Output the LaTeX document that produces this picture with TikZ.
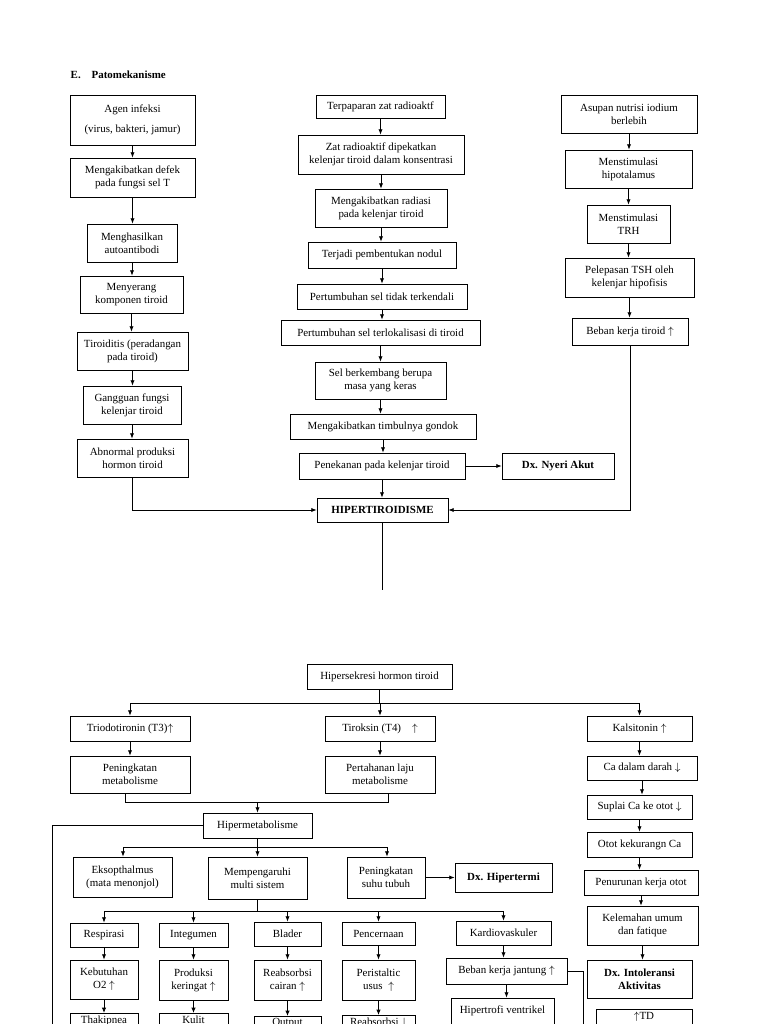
\documentclass[tikz,border=0pt]{standalone}
\usepackage{fontspec}
\setmainfont{Liberation Serif}
\usetikzlibrary{arrows.meta}
\newcommand\bx[7][]{\node[box,#1,minimum width={(#4-#2)*0.75pt},minimum height={(#5-#3)*0.75pt}] (#7) at ({(#2+#4)/2},{(#3+#5)/2}) {#6};}
\newcommand\cutbx[6]{\draw[semithick] (#1,#4) |- (#3,#2) -- (#3,#4);
  \node[txt,anchor=north] (#6) at ({(#1+#3)/2},#2+1) {#5};}
\newcommand\dn[2]{\draw[arr] (#1.south) -- (#1.south|-#2.north);}
\newcommand\up{$\uparrow$}
\newcommand\dw{$\downarrow$}
\begin{document}
\begin{tikzpicture}[x=0.75pt,y=-0.75pt,
  txt/.style={inner sep=1pt,align=center,font=\fontsize{8.2}{9.6}\selectfont},
  box/.style={txt,draw,semithick},
  arr/.style={semithick,-{Latex[length=4pt,width=3.2pt]}},
  ln/.style={semithick}]
\useasboundingbox (0,0) rectangle (768,1024);
\node[anchor=west,font=\bfseries\fontsize{8.2}{9.6}\selectfont] (title) at (66,75) {E.\quad Patomekanisme};
% column 1
\bx{70}{95}{195}{145}{Agen infeksi\\[5pt](virus, bakteri, jamur)}{a1}
\bx{70}{158}{195}{197}{Mengakibatkan defek\\pada fungsi sel T}{a2}
\bx{87}{224}{177}{262}{Menghasilkan\\autoantibodi}{a3}
\bx{80}{276}{183}{313}{Menyerang\\komponen tiroid}{a4}
\bx{77}{332}{188}{370}{Tiroiditis (peradangan\\pada tiroid)}{a5}
\bx{83}{386}{181}{424}{Gangguan fungsi\\kelenjar tiroid}{a6}
\bx{77}{439}{188}{477}{Abnormal produksi\\hormon tiroid}{a7}
\dn{a1}{a2}\dn{a2}{a3}\dn{a3}{a4}\dn{a4}{a5}\dn{a5}{a6}\dn{a6}{a7}
% column 2
\bx{316}{95}{445}{118}{Terpaparan zat radioaktf}{b1}
\bx{298}{135}{464}{174}{Zat radioaktif dipekatkan\\kelenjar tiroid dalam konsentrasi}{b2}
\bx{315}{189}{447}{227}{Mengakibatkan radiasi\\pada kelenjar tiroid}{b3}
\bx{308}{242}{456}{268}{Terjadi pembentukan nodul}{b4}
\bx{297}{284}{467}{309}{Pertumbuhan sel tidak terkendali}{b5}
\bx{281}{320}{480}{345}{Pertumbuhan sel terlokalisasi di tiroid}{b6}
\bx{315}{362}{446}{399}{Sel berkembang berupa\\masa yang keras}{b7}
\bx{290}{414}{476}{439}{Mengakibatkan timbulnya gondok}{b8}
\bx{299}{453}{465}{479}{Penekanan pada kelenjar tiroid}{b9}
\bx[font=\bfseries\fontsize{8.2}{9.6}\selectfont]{502}{453}{614}{479}{Dx. Nyeri Akut}{dx1}
\bx[font=\bfseries\fontsize{8.2}{9.6}\selectfont]{317}{498}{448}{522}{HIPERTIROIDISME}{h}
\dn{b1}{b2}\dn{b2}{b3}\dn{b3}{b4}\dn{b4}{b5}\dn{b5}{b6}\dn{b6}{b7}\dn{b7}{b8}\dn{b8}{b9}\dn{b9}{h}
\draw[arr] (b9) -- (dx1);
% column 3
\bx{561}{95}{697}{133}{Asupan nutrisi iodium\\berlebih}{c1}
\bx{565}{150}{692}{188}{Menstimulasi\\hipotalamus}{c2}
\bx{587}{205}{670}{243}{Menstimulasi\\TRH}{c3}
\bx{565}{258}{694}{297}{Pelepasan TSH oleh\\kelenjar hipofisis}{c4}
\bx{572}{318}{688}{345}{Beban kerja tiroid \up}{c5}
\dn{c1}{c2}\dn{c2}{c3}\dn{c3}{c4}\dn{c4}{c5}
\draw[arr] (a7.south) |- (h.west);
\draw[arr] (c5.south) |- (h.east);
\coordinate (hend) at (380,590);
\draw[ln] (h.south) -- (h.south|-hend);
% lower part
\bx{307}{664}{452}{689}{Hipersekresi hormon tiroid}{d0}
\bx{70}{716}{190}{741}{Triodotironin (T3)\up}{t3}
\bx{325}{716}{435}{741}{Tiroksin (T4)\quad\up}{t4}
\bx{587}{716}{692}{741}{Kalsitonin \up}{ka}
\coordinate (br1) at (380,703);
\draw[ln] (d0.south) -- (d0.south|-br1);
\draw[ln] (t3.north|-br1) -- (ka.north|-br1);
\draw[arr] (t3.north|-br1) -- (t3.north);
\draw[arr] (t4.north|-br1) -- (t4.north);
\draw[arr] (ka.north|-br1) -- (ka.north);
\bx{70}{756}{190}{793}{Peningkatan\\metabolisme}{pm}
\bx{325}{756}{435}{793}{Pertahanan laju\\metabolisme}{pl}
\dn{t3}{pm}\dn{t4}{pl}
\bx{203}{813}{312}{838}{Hipermetabolisme}{hm}
\coordinate (j1) at (125,802); \coordinate (j2) at (388,802);
\draw[ln] (125,793) -- (j1) -- (j2) -- (388,793);
\draw[arr] (hm.north|-j1) -- (hm.north);
\coordinate (lft) at (52,1030);
\draw[ln] (hm.west) -| (lft);
\bx{73}{857}{172}{897}{Eksopthalmus\\(mata menonjol)}{e1}
\bx{208}{857}{307}{899}{Mempengaruhi\\multi sistem}{e2}
\bx{347}{857}{425}{898}{Peningkatan\\suhu tubuh}{e3}
\bx[font=\bfseries\fontsize{8.2}{9.6}\selectfont]{455}{863}{552}{892}{Dx. Hipertermi}{dx2}
\coordinate (br2) at (258,847);
\draw[ln] (hm.south) -- (hm.south|-br2);
\draw[ln] (123,847) -- (387,847);
\draw[arr] (123,847) -- (e1.north-|123,0);
\draw[arr] (hm.south|-br2) -- (e2.north);
\draw[arr] (387,847) -- (e3.north-|387,0);
\draw[arr] (e3) -- (dx2);
\bx{70}{923}{138}{947}{Respirasi}{f1}
\bx{159}{923}{228}{947}{Integumen}{f2}
\bx{254}{922}{321}{946}{Blader}{f3}
\bx{342}{922}{415}{945}{Pencernaan}{f4}
\bx{456}{921}{551}{945}{Kardiovaskuler}{f5}
\coordinate (br3) at (258,911);
\draw[ln] (e2.south) -- (e2.south|-br3);
\draw[ln] (f1.north|-br3) -- (f5.north|-br3);
\foreach \f in {f1,f2,f3,f4,f5}{\draw[arr] (\f.north|-br3) -- (\f.north);}
\bx{70}{960}{138}{999}{Kebutuhan\\O2 \up}{g1}
\bx{159}{960}{228}{1000}{Produksi\\keringat \up}{g2}
\bx{254}{960}{321}{1000}{Reabsorbsi\\cairan \up}{g3}
\bx{342}{960}{415}{1000}{Peristaltic\\usus \;\up}{g4}
\bx{446}{958}{567}{984}{Beban kerja jantung \up}{g5}
\bx{451}{998}{554}{1024}{Hipertrofi ventrikel}{g6}
\dn{f1}{g1}\dn{f2}{g2}\dn{f3}{g3}\dn{f4}{g4}\dn{f5}{g5}\dn{g5}{g6}
\cutbx{70}{1013}{138}{1030}{Thakipnea}{k1}
\cutbx{159}{1013}{228}{1030}{Kulit}{k2}
\cutbx{254}{1016}{321}{1030}{Output}{k3}
\cutbx{342}{1015}{415}{1030}{Reabsorbsi \dw}{k4}
\draw[arr] (g1.south) -- (g1.south|-70,1013);
\draw[arr] (g2.south) -- (g2.south|-159,1013);
\draw[arr] (g3.south) -- (g3.south|-254,1016);
\draw[arr] (g4.south) -- (g4.south|-342,1015);
\coordinate (rt) at (583,1030);
\draw[ln] (g5.east) -| (rt);
\bx{587}{756}{697}{780}{Ca dalam darah \dw}{m1}
\bx{587}{795}{692}{819}{Suplai Ca ke otot \dw}{m2}
\bx{587}{832}{692}{857}{Otot kekurangn Ca}{m3}
\bx{584}{870}{698}{895}{Penurunan kerja otot}{m4}
\bx{587}{906}{698}{945}{Kelemahan umum\\dan fatique}{m5}
\bx[font=\bfseries\fontsize{8.2}{9.6}\selectfont]{587}{960}{692}{998}{Dx. Intoleransi\\Aktivitas}{m6}
\cutbx{596}{1009}{692}{1030}{\up TD}{m7}
\dn{ka}{m1}\dn{m1}{m2}\dn{m2}{m3}\dn{m3}{m4}\dn{m4}{m5}\dn{m5}{m6}
\end{tikzpicture}
\end{document}
